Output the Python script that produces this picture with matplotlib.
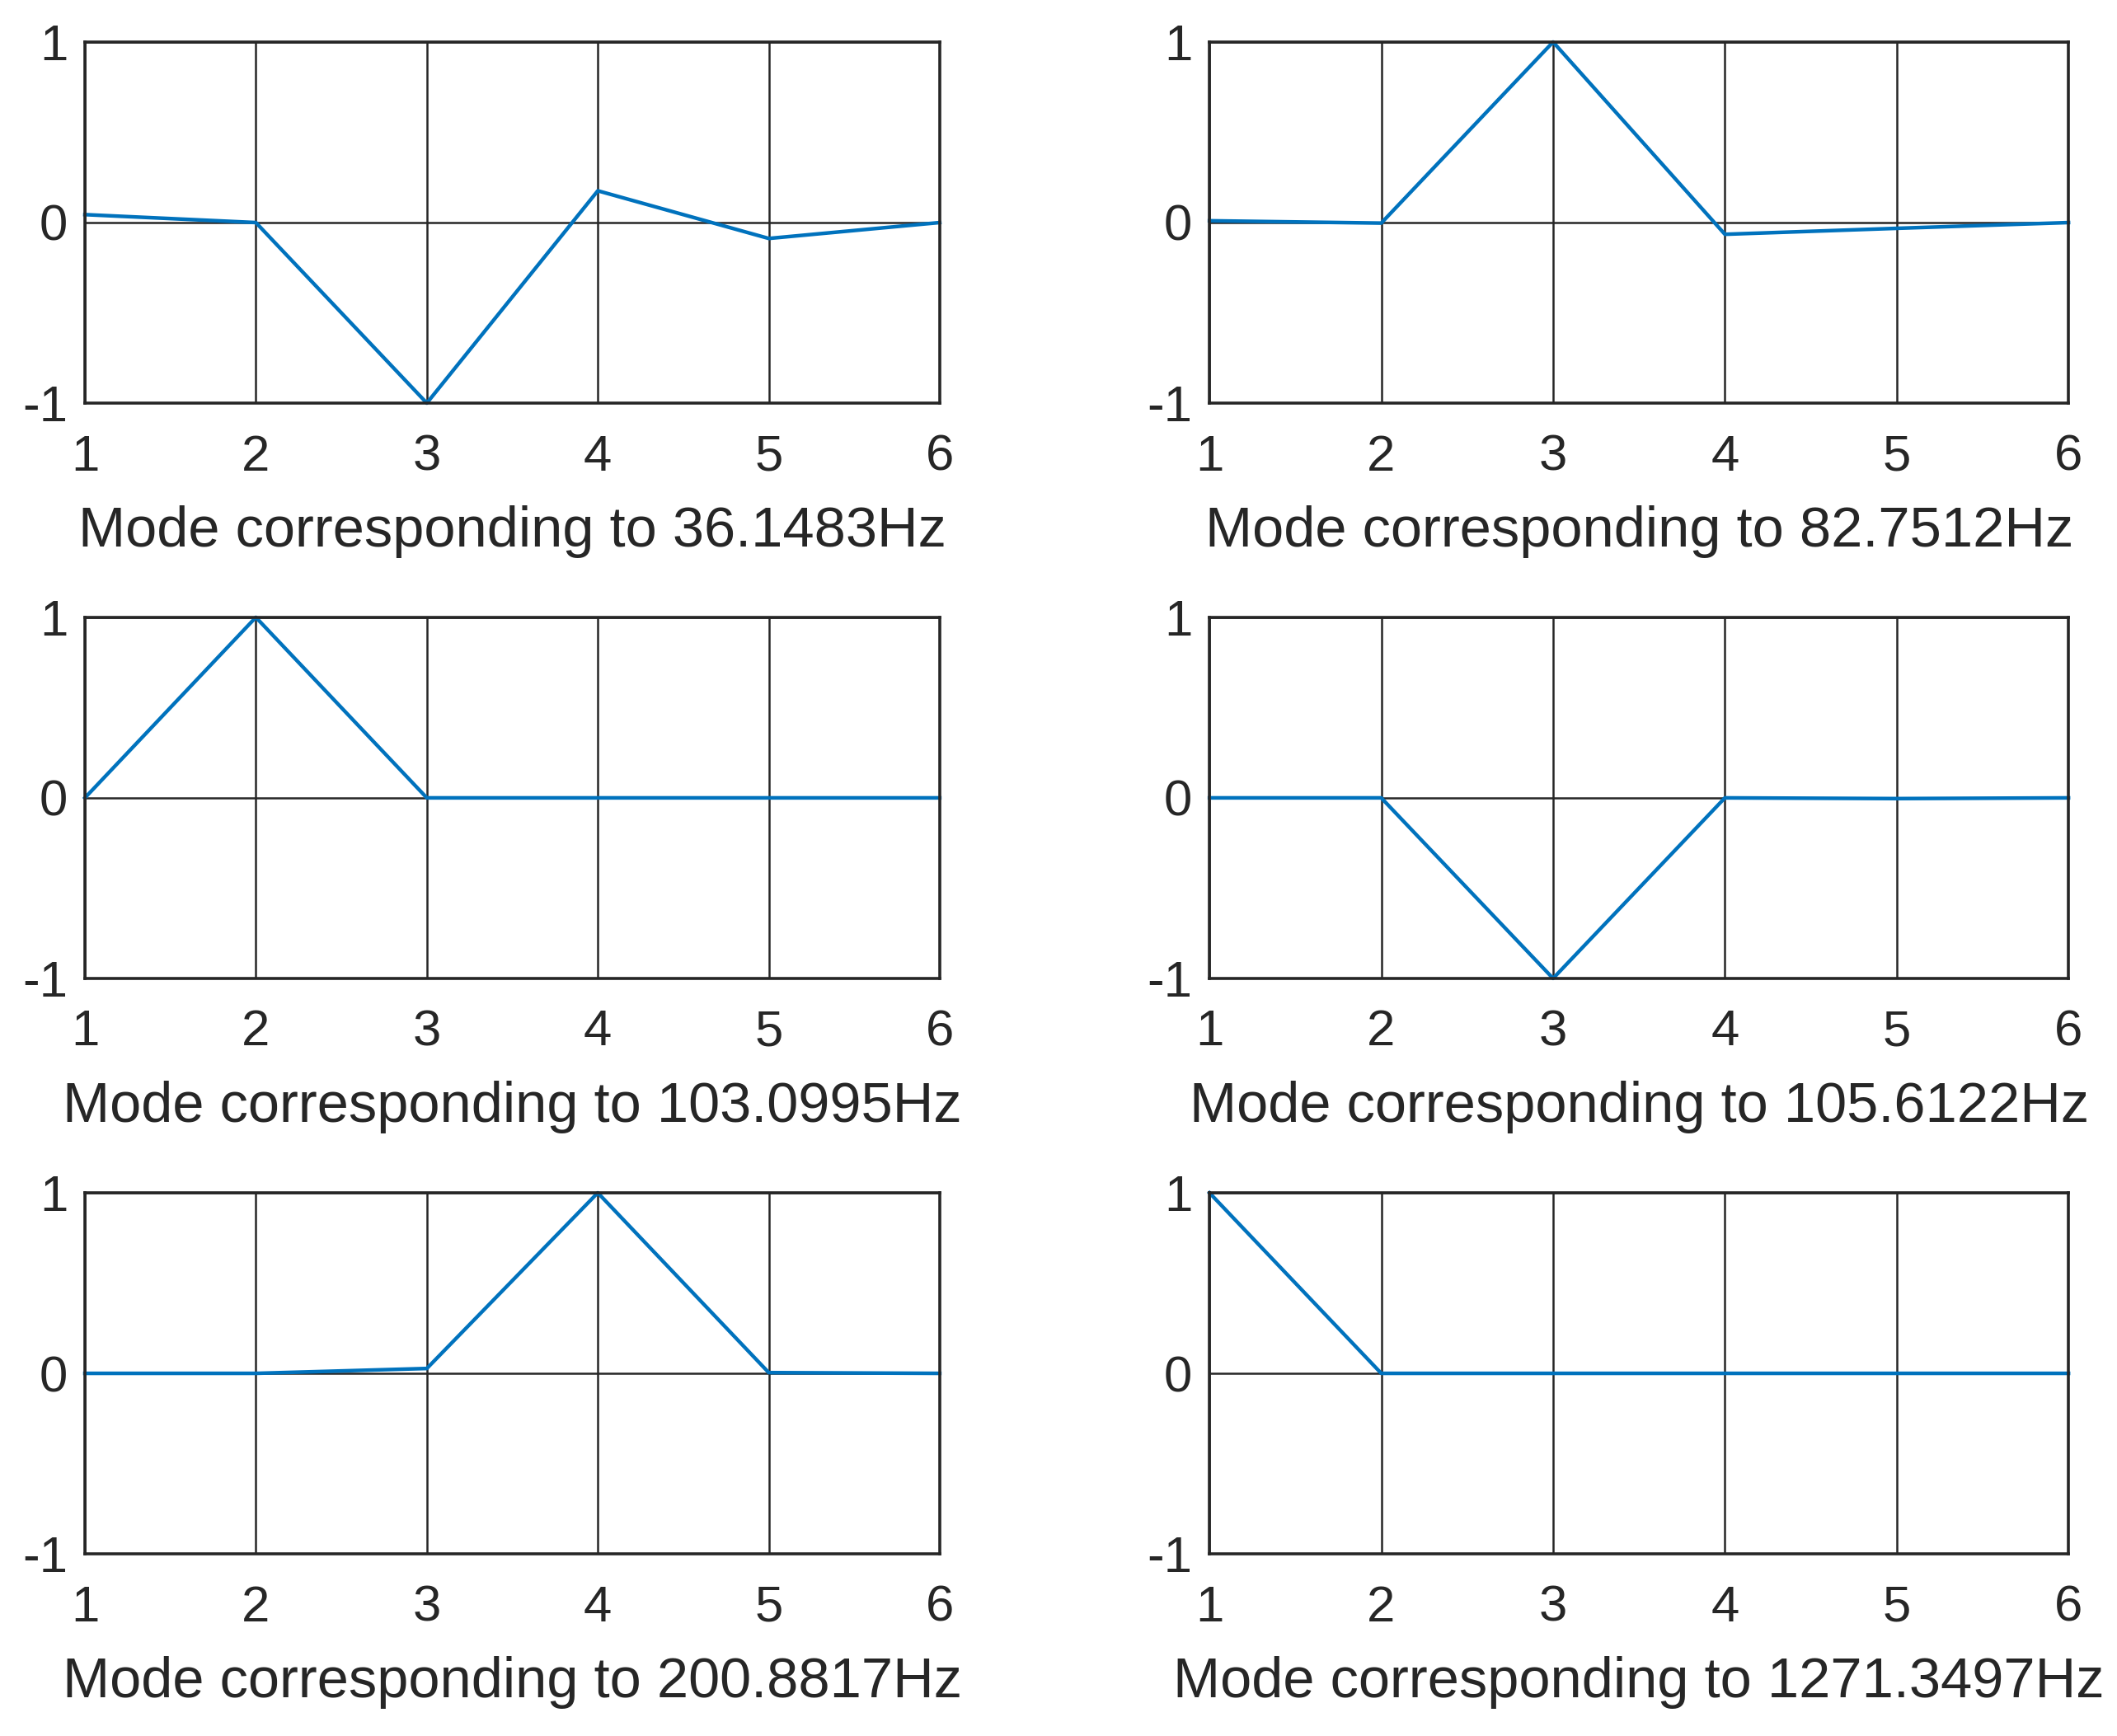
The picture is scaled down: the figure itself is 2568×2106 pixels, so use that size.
import matplotlib
matplotlib.use("Agg")
import matplotlib.pyplot as plt

# node index along the structure
nodes = [1, 2, 3, 4, 5, 6]

# natural frequencies (Hz) and normalised mode shapes
freqs = ["36.1483", "82.7512", "103.0995", "105.6122", "200.8817", "1271.3497"]
mode1 = [0.044, 0.0, -1.0, 0.176, -0.088, 0.0]
mode2 = [0.010, -0.003, 1.0, -0.065, -0.032, 0.0]
mode3 = [0.0, 1.0, 0.0, 0.0, 0.0, 0.0]
mode4 = [0.0, 0.0, -1.0, 0.0, -0.004, 0.0]
mode5 = [0.0, 0.0, 0.027, 1.0, 0.004, 0.0]
mode6 = [1.0, 0.0, 0.0, 0.0, 0.0, 0.0]
modes = [mode1, mode2, mode3, mode4, mode5, mode6]

plt.rcParams["font.family"] = ["Liberation Sans", "DejaVu Sans"]
plt.rcParams["axes.unicode_minus"] = False
text_col = "#262626"

fig = plt.figure(figsize=(25.68, 21.06), dpi=100)

col_x = [0.0401, 0.5713]
col_w = [0.4038, 0.4058]
row_y = [0.7678, 0.4364, 0.1049]
row_h = 0.2080

for i, (shape, f) in enumerate(zip(modes, freqs)):
    r, c = divmod(i, 2)
    ax = fig.add_axes([col_x[c], row_y[r], col_w[c], row_h])
    ax.plot(nodes, shape, color="#0072BD", linewidth=3.2, zorder=3, clip_on=False)
    ax.set_xlim(1, 6)
    ax.set_ylim(-1, 1)
    ax.set_xticks(nodes)
    ax.set_yticks([-1, 0, 1])
    ax.grid(True, color="#262626", linewidth=1.8)
    ax.set_axisbelow(True)
    for s in ax.spines.values():
        s.set_linewidth(2.6)
        s.set_color(text_col)
        s.set_zorder(4)
    ax.tick_params(axis="x", length=0, pad=27, labelsize=44.5, colors=text_col)
    ax.tick_params(axis="y", length=0, pad=15, labelsize=44.5, colors=text_col)
    ax.set_xlabel("Mode corresponding to " + f + "Hz", fontsize=49.4, color=text_col, labelpad=21)

fig.savefig("out.png", dpi=100, facecolor="white")
